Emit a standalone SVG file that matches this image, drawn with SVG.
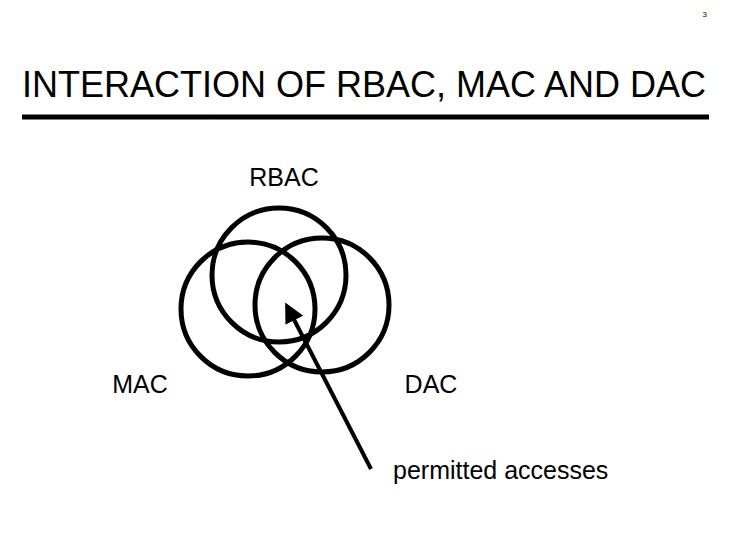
<svg xmlns="http://www.w3.org/2000/svg" width="729" height="551" viewBox="0 0 729 551">
<style>
text{font-family:"Liberation Sans",Arial,sans-serif;fill:#000}
.c{fill:none;stroke:#000;stroke-width:5}
</style>
<defs><marker id="a" markerWidth="5" markerHeight="5" refX="4" refY="2.5" orient="auto" markerUnits="strokeWidth"><path d="M0,0L5,2.5L0,5z" fill="#000"/></marker></defs>
<rect width="729" height="551" fill="#fff"/>
<text x="707" y="17" font-size="8" text-anchor="end">3</text>
<text x="364" y="97" font-size="36" text-anchor="middle">INTERACTION OF RBAC, MAC AND DAC</text>
<line x1="22" y1="117" x2="709" y2="117" stroke="#000" stroke-width="5"/>
<g id="rbac"><circle class="c" cx="279" cy="275" r="67"/><text x="284" y="186" font-size="25" text-anchor="middle">RBAC</text></g>
<g id="mac"><circle class="c" cx="248" cy="309" r="67"/><text x="140" y="393" font-size="25" text-anchor="middle">MAC</text></g>
<g id="dac"><circle class="c" cx="322" cy="305" r="67"/><text x="431" y="393" font-size="25" text-anchor="middle">DAC</text></g>
<g id="connectors"><line x1="371" y1="469" x2="287" y2="306" stroke="#000" stroke-width="4" marker-end="url(#a)"/></g>
<g id="label"><text x="393" y="479" font-size="25">permitted accesses</text></g>
</svg>
